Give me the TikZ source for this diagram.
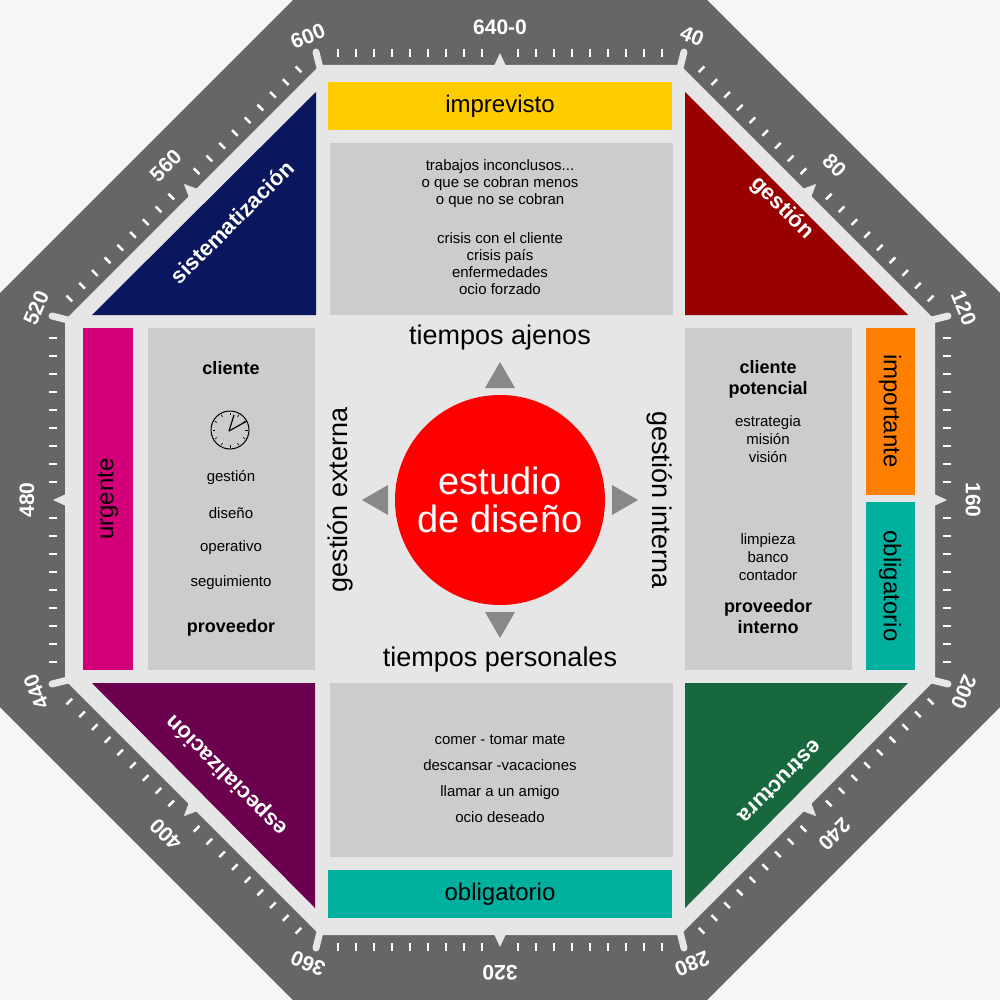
\documentclass[tikz,border=0pt]{standalone}
\usepackage{fontspec}
\setmainfont{Liberation Sans}
\definecolor{bgc}{HTML}{F7F6F4}
\definecolor{dark}{HTML}{666666}
\definecolor{lite}{HTML}{E6E6E6}
\definecolor{boxg}{HTML}{CCCCCC}
\definecolor{navy}{HTML}{0A165E}
\definecolor{wine}{HTML}{990000}
\definecolor{plum}{HTML}{6A004E}
\definecolor{forest}{HTML}{17683C}
\definecolor{yel}{HTML}{FFCC00}
\definecolor{teal}{HTML}{00B09E}
\definecolor{mag}{HTML}{D4007A}
\definecolor{ora}{HTML}{FF8000}
\definecolor{arr}{HTML}{888888}
\begin{document}
\begin{tikzpicture}[x=1pt,y=-1pt,
  num/.style={text=white,font=\bfseries\fontsize{21}{21}\selectfont,inner sep=0},
  txt/.style={font=\fontsize{15}{15}\selectfont,inner sep=0},
  btxt/.style={font=\bfseries\fontsize{18}{18}\selectfont,inner sep=0},
  big/.style={font=\fontsize{27}{27}\selectfont,inner sep=0},
  bar/.style={font=\fontsize{24}{24}\selectfont,inner sep=0},
  tri/.style={text=white,font=\bfseries\fontsize{22}{22}\selectfont,inner sep=0},
  tick/.style={white,line width=2.5pt}]
\useasboundingbox (0,0) rectangle (1000,1000);
\fill[bgc] (0,0) rectangle (1000,1000);
\fill[dark] (293,0)--(707,0)--(1000,293)--(1000,707)--(707,1000)--(293,1000)--(0,707)--(0,293)--cycle;
\fill[lite] (320,65)--(680,65)--(935,320)--(935,680)--(680,935)--(320,935)--(65,680)--(65,320)--cycle;
% ticks
\foreach \i in {0,...,7}{
  \begin{scope}[rotate around={45*\i:(500,500)}]
    \foreach \s in {-9,...,-1,1,2,...,9}
      \draw[tick] (500+18*\s,49)--(500+18*\s,57);
    \fill[lite] (494,66)--(500,53)--(506,66)--cycle;
  \end{scope}}
\foreach \i in {0,2,4,6}{
  \begin{scope}[rotate around={45*\i:(500,500)}]
    \draw[lite,line width=7pt,line cap=round] (320,68)--(316,52);
    \draw[lite,line width=7pt,line cap=round] (680,68)--(684,52);
  \end{scope}}
% labels
\node[num] (l0) at (500,27) {640-0};
\foreach \k in {1,...,15}{
  \pgfmathtruncatemacro\v{640-40*\k}
  \pgfmathsetmacro\t{90+22.5*\k}
  \pgfmathsetmacro\r{ifthenelse(mod(\k,2)==1,502,473)}
  \node[num,rotate=22.5*\k] (l\k) at ({500+\r*cos(\t)},{500-\r*sin(\t)}) {\v};
}
% triangles
\fill[navy] (92,315)--(316,315)--(316,92)--cycle;
\fill[wine] (685,92)--(685,315)--(908,315)--cycle;
\fill[plum] (92,683)--(315,683)--(315,908)--cycle;
\fill[forest] (685,683)--(908,683)--(685,908)--cycle;
\node[tri,rotate=45] (t1) at (232,222) {sistematización};
\node[tri,rotate=-45] (t2) at (782,208) {gestión};
\node[tri,rotate=135] (t3) at (227,775) {especialización};
\node[tri,rotate=225] (t4) at (780,782) {estructura};
% bars
\fill[yel] (328,82) rectangle (672,130);
\fill[teal] (328,870) rectangle (672,918);
\fill[mag] (83,328) rectangle (133,670);
\fill[ora] (866,328) rectangle (915,495);
\fill[teal] (866,502) rectangle (915,670);
\node[bar] (b1) at (500,106) {imprevisto};
\node[bar] (b2) at (500,894) {obligatorio};
\node[bar,rotate=90] (b3) at (108,499) {urgente};
\node[bar,rotate=-90] (b4) at (890,411) {importante};
\node[bar,rotate=-90] (b5) at (890,586) {obligatorio};
% boxes
\fill[boxg] (330,143) rectangle (673,315);
\fill[boxg] (330,683) rectangle (673,857);
\fill[boxg] (148,328) rectangle (315,670);
\fill[boxg] (685,328) rectangle (852,670);
\node[txt,align=center] (top1) at (500,184) {trabajos inconclusos...\\[2pt]o que se cobran menos\\[2pt]o que no se cobran};
\node[txt,align=center] (top2) at (500,264) {crisis con el cliente\\[2pt]crisis país\\[2pt]enfermedades\\[2pt]ocio forzado};
\node[txt,align=center] (bot) at (500,779) {comer - tomar mate\\[11pt]descansar -vacaciones\\[11pt]llamar a un amigo\\[11pt]ocio deseado};
% left box
\node[btxt] (cl) at (231,368) {cliente};
\draw[black,line width=1pt] (230,430) circle (19);
\foreach \a in {0,30,...,330}
  \draw[black,line width=0.6pt] ({230+15*cos(\a)},{430+15*sin(\a)})--({230+17.5*cos(\a)},{430+17.5*sin(\a)});
\draw[black,line width=1.2pt] (229,431)--(234,415);
\draw[black,line width=1.2pt] (229,431)--(247,421);
\node[txt] (g1) at (231,478) {gestión};
\node[txt] (g2) at (231,513) {diseño};
\node[txt] (g3) at (231,548) {operativo};
\node[txt] (g4) at (231,583) {seguimiento};
\node[btxt] (pv) at (231,628) {proveedor};
% right box
\node[btxt,align=center] (cp) at (768,379) {cliente\\[3pt]potencial};
\node[txt,align=center] (r1) at (768,439) {estrategia\\[3pt]misión\\[3pt]visión};
\node[txt,align=center] (r2) at (768,557) {limpieza\\[3pt]banco\\[3pt]contador};
\node[btxt,align=center] (pi) at (768,617) {proveedor\\[3pt]interno};
% center
\fill[red] (500,500) circle (105);
\node[text=white,align=center,font=\fontsize{38}{38}\selectfont,inner sep=0] (c) at (500,500) {estudio\\[0pt]de diseño};
\node[big] (n1) at (500,338) {tiempos ajenos};
\node[big] (n2) at (500,660) {tiempos personales};
\node[big,rotate=90] (n3) at (340,500) {gestión externa};
\node[big,rotate=-90] (n4) at (660,500) {gestión interna};
\fill[arr] (485,388)--(515,388)--(500,362)--cycle;
\fill[arr] (485,612)--(515,612)--(500,638)--cycle;
\fill[arr] (388,485)--(388,515)--(362,500)--cycle;
\fill[arr] (612,485)--(612,515)--(638,500)--cycle;
\end{tikzpicture}
\end{document}
